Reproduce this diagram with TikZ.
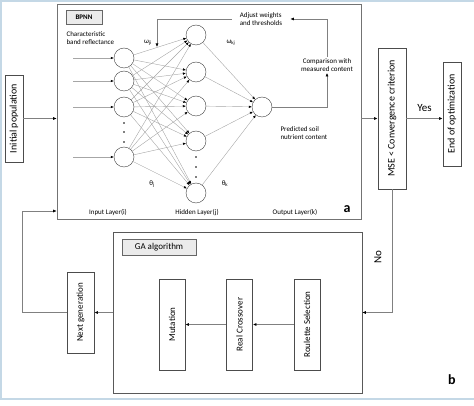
\documentclass[tikz,border=0pt]{standalone}
\usepackage{fontspec}
\setmainfont{Carlito}
\usepackage{tikz}
\usetikzlibrary{calc,arrows.meta}
\definecolor{framebl}{RGB}{196,216,230}

\begin{document}
\begin{tikzpicture}[x=1pt,y=-1pt]
                      \tikzstyle{neuron}=[circle,draw=black!75,fill=white,inner sep=0pt,minimum size=20pt]
                      \tikzstyle{vbox}=[draw=black!70,line width=0.8pt,rotate=90,inner sep=0pt,font=\fontsize{10}{12}\selectfont]
                      \tikzstyle{gbox}=[vbox,font=\fontsize{9}{11}\selectfont,minimum width=91pt,minimum height=26pt]
                      \tikzstyle{tag}=[draw=black!60,fill=black!8,line width=0.6pt,inner sep=0pt]
                      \tikzstyle{tiny}=[font=\fontsize{7}{8.5}\selectfont]
                      \tikzstyle{link}=[draw=black!50,line width=0.6pt,-{Latex[length=3.5pt,width=3pt,black]}]
                      \tikzstyle{nnlink}=[draw=black!35,line width=0.4pt,-{Latex[length=3pt,width=2.5pt,black]}]
                      \useasboundingbox (0,0) rectangle (474,406);
                      \draw[framebl,line width=2pt] (474,1) -- (1,1) -- (1,399) -- (474,399);
                      % left column and BPNN frame
                      \node[vbox,minimum width=87pt,minimum height=18pt] (init) at (14,118.5) {Initial population};
                      \node[draw=black!55,line width=0.6pt,minimum width=304pt,minimum height=215pt,inner sep=0pt] (bpnn) at (209,111.5) {};
                      \node[tag,minimum width=36pt,minimum height=14pt,tiny] (bp) at (84,17) {\textbf{BPNN}};
                      \node[tiny,align=left,anchor=west] (band) at (63,38) {Characteristic\\band reflectance};
                      % network
                      \foreach \i/\y in {1/58,2/81,3/107,4/157} {
                        \node[neuron] (i\i) at (124,\y) {};
                        \coordinate (x\i) at (73,\y);
                        \draw[nnlink] (x\i) -- (i\i);
                      }
                      \foreach \j/\y in {1/35,2/72,3/106,4/141,5/193}
                        \node[neuron] (h\j) at (196,\y) {};
                      \node[neuron] (out) at (262,107) {};
                      \foreach \i in {1,...,4}
                        \foreach \j in {1,...,5}
                          \draw[nnlink] (i\i) -- (h\j);
                      \foreach \j in {1,...,5}
                        \draw[nnlink] (h\j) -- (out);
                      \foreach \y in {123,132,142} \fill (124,\y) circle (0.9pt);
                      \foreach \y in {157,167,177} \fill (196,\y) circle (0.9pt);
                      \node[tiny] (wji) at (148,43) {ω\textsubscript{ji}};
                      \node[tiny] (wkj) at (231,43) {ω\textsubscript{kj}};
                      \node[tiny] (tj) at (152,184) {θ\textsubscript{j}};
                      \node[tiny] (tk) at (225,184) {θ\textsubscript{k}};
                      \node[tiny,align=left,anchor=west] (pred) at (277,133) {Predicted soil\\nutrient content};
                      % feedback loop
                      \node[tiny,align=center,inner sep=1pt] (cmp) at (327,65) {Comparison with\\measured content};
                      \node[tiny,align=left,inner xsep=8pt,inner ysep=1pt] (adj) at (261,19) {Adjust weights\\and thresholds};
                      \coordinate (upd) at (157,47);
                      \draw[link] (out) -| (cmp.south);
                      \draw[link] (cmp.north) |- (adj.east);
                      \draw[link] (adj.west) -| (upd);
                      \node[tiny] (il) at (108,213) {Input Layer(i)};
                      \node[tiny] (hl) at (197,213) {Hidden Layer(j)};
                      \node[tiny] (ol) at (295,213) {Output Layer(k)};
                      \node[font=\fontsize{14}{16}\selectfont\bfseries] (pa) at (347,209) {a};
                      % right column
                      \node[vbox,minimum width=141pt,minimum height=28pt] (mse) at (392,118.5) {MSE < Convergence criterion};
                      \node[vbox,minimum width=104pt,minimum height=18pt] (end) at (452,114) {End of optimization};
                      \draw[link] (init) -- (bpnn.west |- init);
                      \draw[link] (bpnn.east |- mse) -- (mse);
                      \draw[link] (mse.south) -- (end.north |- mse.south) node[midway,above=3pt,font=\fontsize{11}{13}\selectfont] {Yes};
                      % GA part
                      \node[draw=black!65,line width=0.6pt,minimum width=249pt,minimum height=161pt,inner sep=0pt] (ga) at (237.5,312.5) {};
                      \node[tag,minimum width=74pt,minimum height=16pt,font=\fontsize{9}{11}\selectfont] (gat) at (159,247) {GA algorithm};
                      \node[gbox] (mut) at (172,324.5) {Mutation};
                      \node[gbox] (cross) at (239.5,324.5) {Real Crossover};
                      \node[gbox] (rsel) at (307,324.5) {Roulette Selection};
                      \node[vbox,font=\fontsize{9}{11}\selectfont,minimum width=81pt,minimum height=27pt] (next) at (80.5,312.5) {Next generation};
                      \draw[link] (rsel) -- (cross);
                      \draw[link] (cross) -- (mut);
                      \draw[link] (ga.west) -- (next);
                      \coordinate (back) at (22,211);
                      \draw[link] (next.north) -| (back) -- (bpnn.west |- back);
                      \draw[link] (mse.west) |- (ga.east);
                      \node[rotate=90,font=\fontsize{11}{13}\selectfont] (no) at (378,257) {No};
                      \node[font=\fontsize{14}{16}\selectfont\bfseries] (pb) at (452,380) {b};
                  \end{tikzpicture}
\end{document}
